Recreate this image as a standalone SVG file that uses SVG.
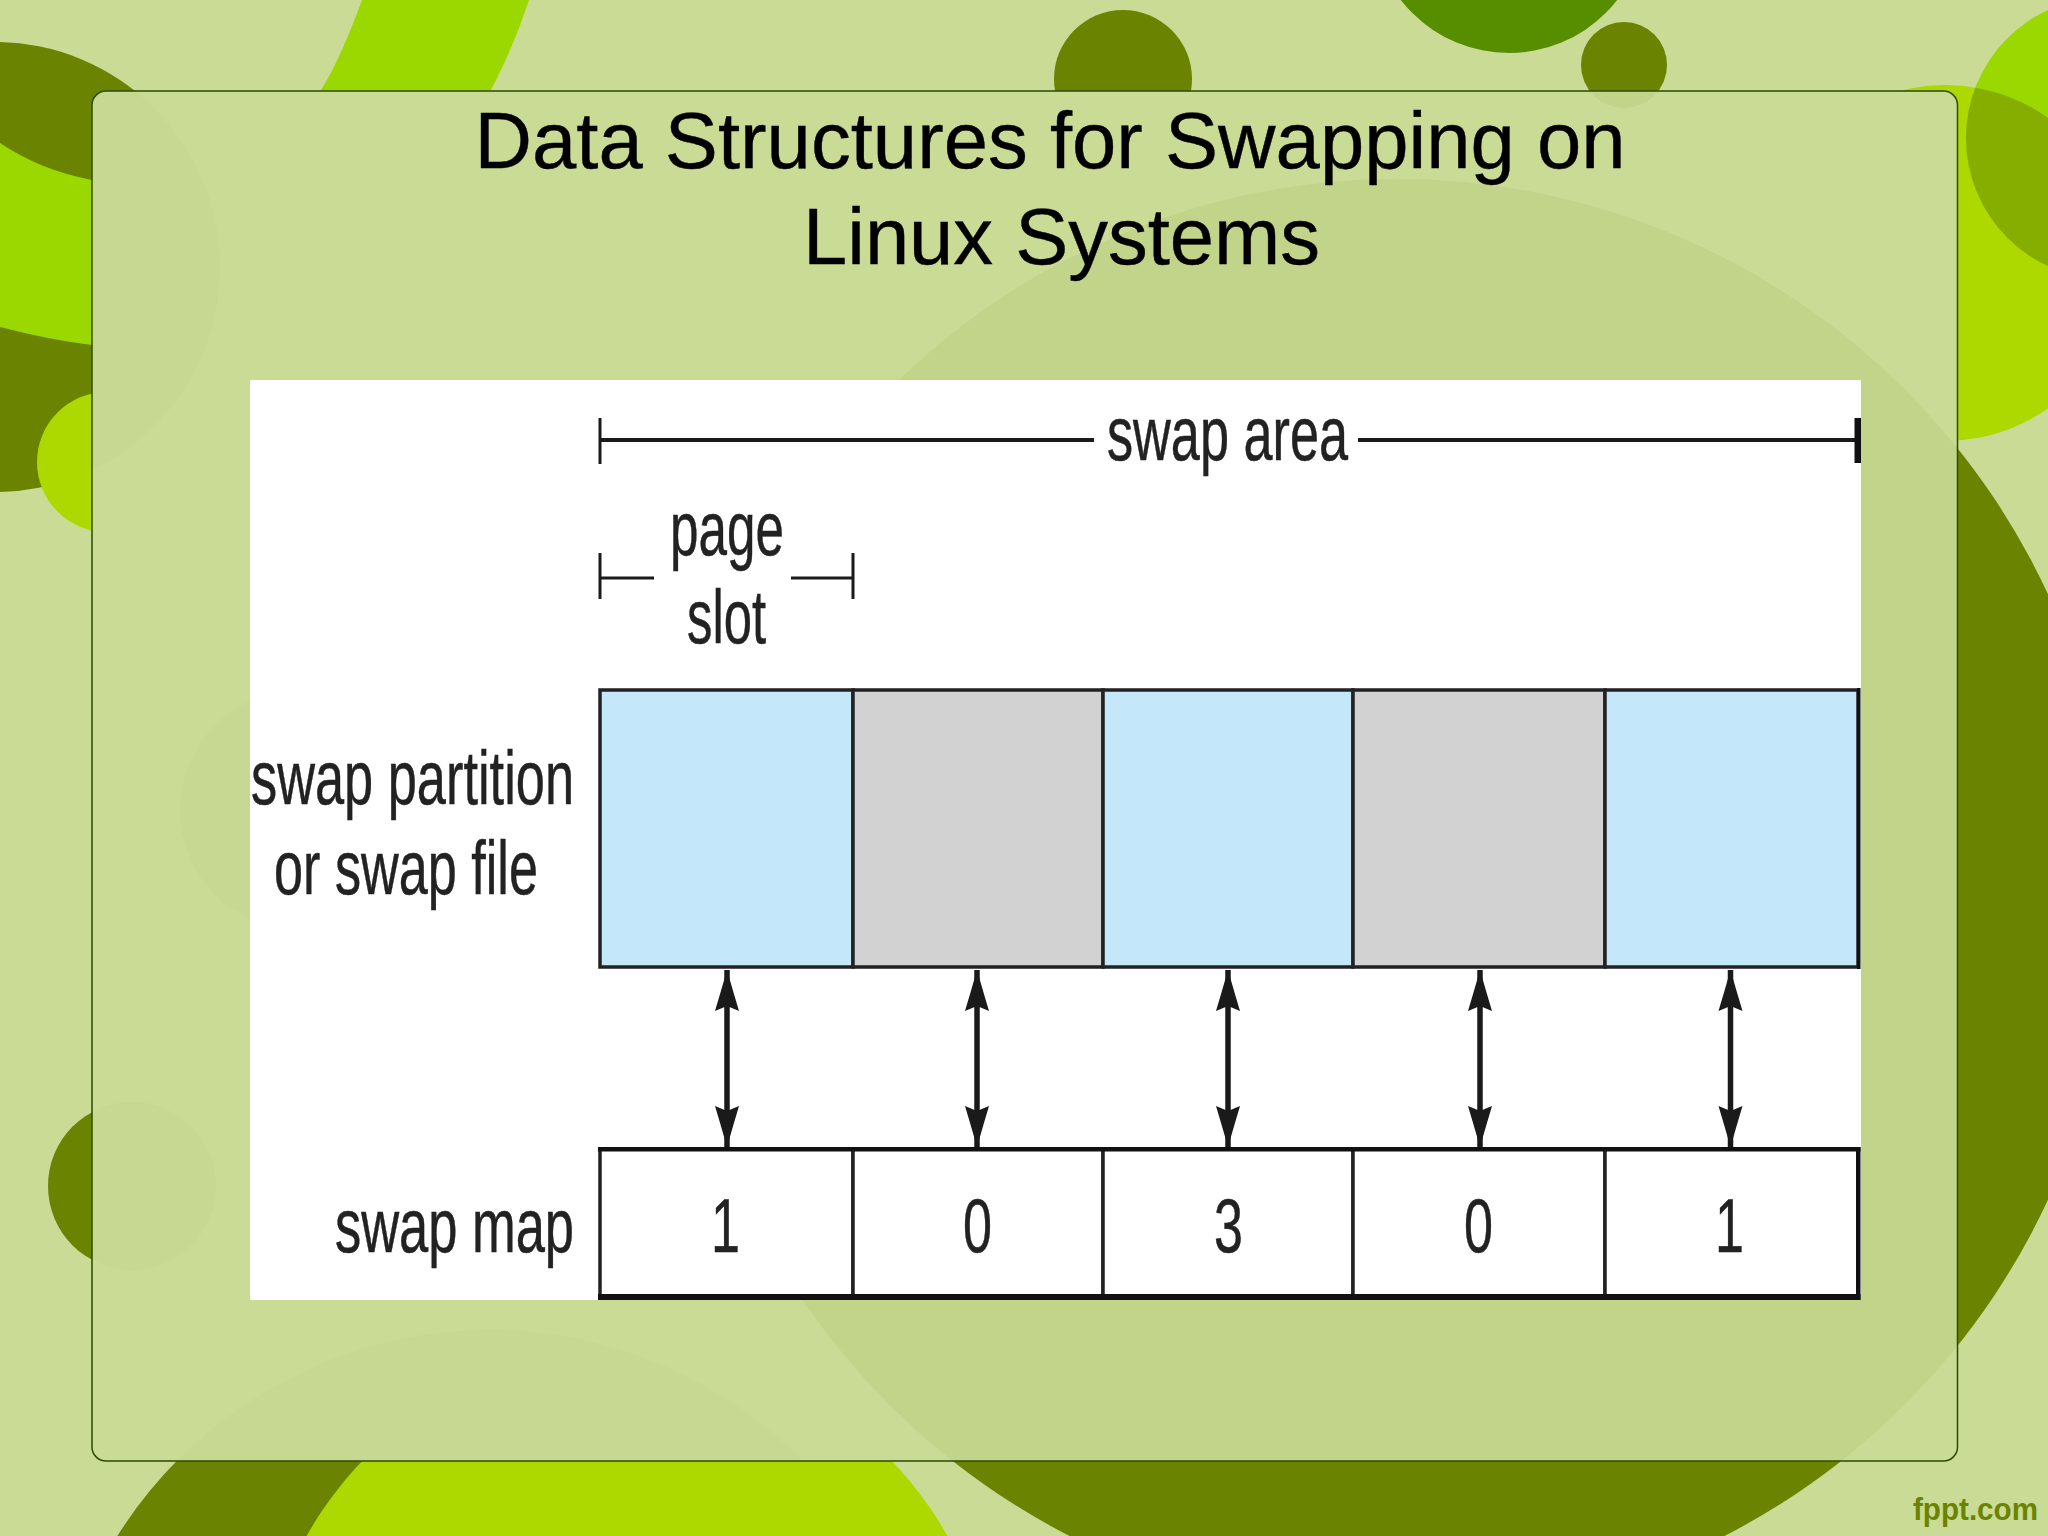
<svg xmlns="http://www.w3.org/2000/svg" width="2048" height="1536" viewBox="0 0 2048 1536">
<style>
.olive{fill:#6A8300}.bright{fill:#9BD800}.lime{fill:#ADD800}
.t{font-family:"Liberation Sans",Arial,sans-serif;fill:#000;stroke:#000;stroke-width:.4}
.l{font-family:"Liberation Sans",Arial,sans-serif;font-size:76px;fill:#222;stroke:#222;stroke-width:.5}
.box{stroke:#222;stroke-width:3.5}
.blue{fill:#C5E7FA}.gray{fill:#D2D2D2}.white{fill:#FFFFFF}
.rule{stroke:#1a1a1a;stroke-width:4;fill:none}
.tick{stroke:#1a1a1a;stroke-width:3;fill:none}
.arrow{stroke:#1a1a1a;stroke-width:5.500;fill:none;marker-start:url(#head);marker-end:url(#head)}
.ghost{fill:#6A8300;fill-opacity:.07}
.ghost2{fill:#6A8300;fill-opacity:.025}
</style>
<defs>
<marker id="head" markerUnits="userSpaceOnUse" markerWidth="42" markerHeight="30" refX="41" refY="15" orient="auto-start-reverse"><path d="M41 15Q20 9 0 3L5 15L0 27Q20 21 41 15Z" fill="#1a1a1a"/></marker>
<clipPath id="limeClip"><circle cx="1945" cy="263" r="178"/></clipPath>
<clipPath id="panelClip"><rect x="92" y="91" width="1865.500" height="1370" rx="14"/></clipPath>
</defs>
<g id="background">
<rect width="2048" height="1536" fill="#C9DB95"/>
<circle class="olive" cx="-5" cy="267" r="225"/>
<path class="bright" d="M362 0Q340 60 321 90Q240 190 92 180Q40 170 0 143L0 327Q50 340 92 345Q220 350 360 250Q480 150 529 0Z"/>
<circle class="lime" cx="107" cy="462" r="70"/>
<circle class="olive" cx="132" cy="1186" r="84"/>
<circle class="olive" cx="490" cy="1770" r="440"/>
<circle class="lime" cx="627" cy="1715" r="367"/>
<circle class="olive" cx="1397" cy="897" r="718"/>
<circle class="olive" cx="1123" cy="79" r="69"/>
<circle cx="1509" cy="-84" r="137" fill="#568E00"/>
<circle class="olive" cx="1624" cy="65" r="43"/>
<circle class="lime" cx="1945" cy="263" r="178"/>
<circle class="bright" cx="2107" cy="138" r="141"/>
<circle cx="2107" cy="138" r="141" fill="#85AE00" clip-path="url(#limeClip)"/>
</g>
<g id="panel">
<rect x="92" y="91" width="1865.500" height="1370" rx="14" fill="#C9DB95"/>
<g clip-path="url(#panelClip)">
<circle class="ghost2" cx="-5" cy="267" r="225"/>
<circle class="ghost2" cx="132" cy="1186" r="84"/>
<circle class="ghost" cx="1397" cy="897" r="718"/>
<circle class="ghost" cx="1624" cy="65" r="43"/>
<circle class="ghost2" cx="300" cy="810" r="120"/>
<circle class="ghost2" cx="490" cy="1770" r="440"/>
</g>
<rect x="92" y="91" width="1865.500" height="1370" rx="14" fill="none" stroke="#2E4A00" stroke-width="1.500"/>
</g>
<g id="title">
<text class="t" x="474.500" y="168" font-size="79" textLength="1151" lengthAdjust="spacingAndGlyphs">Data Structures for Swapping on</text>
<text class="t" x="803" y="264" font-size="79" textLength="517" lengthAdjust="spacingAndGlyphs">Linux Systems</text>
</g>
<rect id="figure" x="250" y="380" width="1611" height="920" fill="#FFFFFF"/>
<g id="swap-area">
<path class="rule" d="M600 440H1094M1358 440H1856"/>
<path class="tick" d="M600 418V464"/>
<rect x="1854.500" y="418" width="6.500" height="45" fill="#111"/>
<text class="l" x="1107" y="460" textLength="241" lengthAdjust="spacingAndGlyphs">swap area</text>
</g>
<g id="page-slot">
<path class="tick" d="M600 553V599M600 578H654M791 578H853M853 553V599"/>
<text class="l" x="670" y="555" textLength="114" lengthAdjust="spacingAndGlyphs">page</text>
<text class="l" x="687" y="643" textLength="79" lengthAdjust="spacingAndGlyphs">slot</text>
</g>
<g id="swap-partition-label">
<text class="l" x="251" y="804" textLength="323" lengthAdjust="spacingAndGlyphs">swap partition</text>
<text class="l" x="274" y="894" textLength="264" lengthAdjust="spacingAndGlyphs">or swap file</text>
</g>
<g id="partition-1"><rect class="box blue" x="600" y="690" width="253" height="277"/></g>
<g id="partition-2"><rect class="box gray" x="853" y="690" width="250" height="277"/></g>
<g id="partition-3"><rect class="box blue" x="1103" y="690" width="250" height="277"/></g>
<g id="partition-4"><rect class="box gray" x="1353" y="690" width="252" height="277"/></g>
<g id="partition-5"><rect class="box blue" x="1605" y="690" width="253" height="277"/><rect x="1857" y="688" width="3.500" height="281" fill="#111"/></g>
<g id="connectors">
<path class="arrow" d="M727 970V1147"/>
<path class="arrow" d="M977 970V1147"/>
<path class="arrow" d="M1228 970V1147"/>
<path class="arrow" d="M1480 970V1147"/>
<path class="arrow" d="M1730.500 970V1147"/>
</g>
<g id="swap-map-label"><text class="l" x="335" y="1252" textLength="239" lengthAdjust="spacingAndGlyphs">swap map</text></g>
<g id="map-1"><rect class="box white" x="600" y="1149" width="253" height="148"/><text class="l" x="711" y="1252" textLength="29" lengthAdjust="spacingAndGlyphs">1</text></g>
<g id="map-2"><rect class="box white" x="853" y="1149" width="250" height="148"/><text class="l" x="963" y="1252" textLength="29" lengthAdjust="spacingAndGlyphs">0</text></g>
<g id="map-3"><rect class="box white" x="1103" y="1149" width="250" height="148"/><text class="l" x="1214" y="1252" textLength="29" lengthAdjust="spacingAndGlyphs">3</text></g>
<g id="map-4"><rect class="box white" x="1353" y="1149" width="252" height="148"/><text class="l" x="1464" y="1252" textLength="29" lengthAdjust="spacingAndGlyphs">0</text></g>
<g id="map-5"><rect class="box white" x="1605" y="1149" width="253" height="148"/><text class="l" x="1715" y="1252" textLength="29" lengthAdjust="spacingAndGlyphs">1</text></g>
<g id="map-frame">
<rect x="598" y="1147" width="1262.500" height="4.500" fill="#111"/>
<rect x="598" y="1294" width="1262.500" height="6" fill="#111"/>
<rect x="1856" y="1147" width="4.500" height="153" fill="#111"/>
</g>
<text id="watermark" x="1913" y="1520" font-family="Liberation Sans,Arial,sans-serif" font-weight="700" font-size="31" fill="#6A8300" textLength="125" lengthAdjust="spacingAndGlyphs">fppt.com</text>
</svg>
